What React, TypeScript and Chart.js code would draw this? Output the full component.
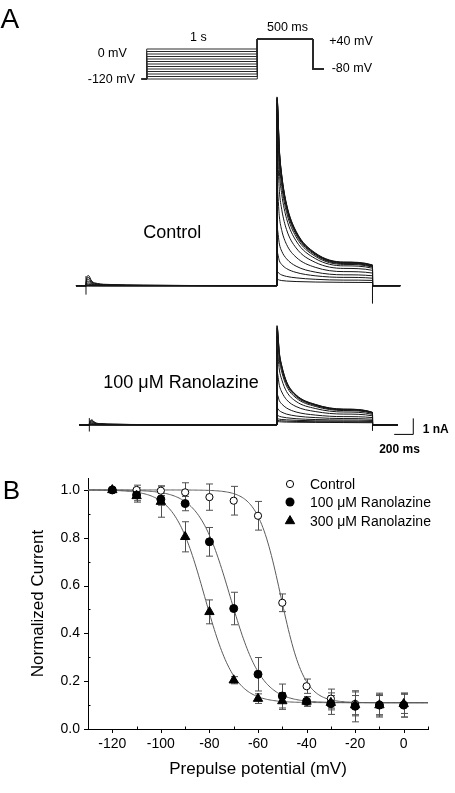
import React, { useEffect, useRef } from "react";
import { Chart, registerables } from "chart.js";

Chart.register(...registerables);

const FONT = "'Liberation Sans', Arial, Helvetica, sans-serif";

// ---------------- Panel A : voltage protocol ----------------
const protocolPrepulseMv = [-120, -110, -100, -90, -80, -70, -60, -50, -40, -30, -20, -10, 0];
const protocolTimesMs = [-45, 0, 0, 1000, 1000, 1500, 1500, 1603];
const protocolHoldingMv = -120;
const protocolTestMv = 40;
const protocolTailMv = -80;

// ---------------- Panel A : current traces (nA vs ms) ----------------
const controlPreT = [-105, -1, 0, 1, 25, 60, 120, 250, 600, 1999];
const ranoPreT = [-70, 34, 35, 36, 60, 95, 155, 285, 635, 1999];
const testT = [2000, 2025, 2050, 2100, 2200, 2400, 2700, 3000];
const controlTailT = [3001, 3290];
const ranoTailT = [3001, 3267];

// one row per prepulse (-120 ... 0 mV)
const controlPre = [
  [0, 0, 0, 0, 0, 0, 0, 0, 0, 0],
  [0, 0, 0, 0, 0, 0, 0, 0, 0, 0],
  [0, 0, 0, 0, 0, 0, 0, 0, 0, 0],
  [0, 0, 0, 0, 0, 0, 0, 0, 0, 0],
  [0, 0, 0, 0, 0, 0, 0, 0, 0, 0],
  [0, 0, 0, 0.006, 0.02, 0.009, 0.004, 0.002, 0.001, 0],
  [0, 0, 0, 0.015, 0.05, 0.022, 0.011, 0.006, 0.003, 0],
  [0, 0, 0, 0.03, 0.1, 0.045, 0.022, 0.012, 0.005, 0],
  [0, 0, 0, 0.054, 0.18, 0.08, 0.04, 0.022, 0.009, 0],
  [0, 0, 0, 0.084, 0.28, 0.126, 0.062, 0.034, 0.014, 0],
  [0, 0, 0, 0.12, 0.4, 0.18, 0.088, 0.048, 0.02, 0],
  [0, 0, 0, 0.156, 0.52, 0.234, 0.114, 0.062, 0.026, 0],
  [0, 0, 0, 0.192, 0.64, 0.288, 0.14, 0.077, 0.032, 0],
];
const controlTest = [
  [11.8, 8.5, 6.9, 5.1, 3.4, 2.05, 1.48, 1.3],
  [11.75, 8.45, 6.85, 5.05, 3.37, 2.03, 1.46, 1.28],
  [11.7, 8.4, 6.8, 5.0, 3.33, 2.0, 1.44, 1.26],
  [11.6, 8.3, 6.7, 4.93, 3.28, 1.97, 1.41, 1.23],
  [11.4, 8.1, 6.55, 4.82, 3.2, 1.92, 1.38, 1.2],
  [11.0, 7.7, 6.2, 4.58, 3.05, 1.84, 1.33, 1.16],
  [10.3, 7.1, 5.7, 4.2, 2.8, 1.7, 1.24, 1.09],
  [8.6, 5.9, 4.75, 3.5, 2.36, 1.46, 1.08, 0.96],
  [6.2, 4.3, 3.45, 2.58, 1.78, 1.15, 0.88, 0.79],
  [3.6, 2.6, 2.15, 1.68, 1.22, 0.85, 0.68, 0.62],
  [2.1, 1.55, 1.32, 1.07, 0.83, 0.62, 0.52, 0.47],
  [0.9, 0.75, 0.67, 0.58, 0.49, 0.4, 0.35, 0.33],
  [0.4, 0.35, 0.32, 0.29, 0.26, 0.23, 0.21, 0.2],
];
const ranoPre = [
  [0, 0, 0, 0, 0, 0, 0, 0, 0, 0],
  [0, 0, 0, 0, 0, 0, 0, 0, 0, 0],
  [0, 0, 0, 0, 0, 0, 0, 0, 0, 0],
  [0, 0, 0, 0, 0, 0, 0, 0, 0, 0],
  [0, 0, 0, 0, 0, 0, 0, 0, 0, 0],
  [0, 0, 0, 0.006, 0.02, 0.009, 0.004, 0.002, 0.001, 0],
  [0, 0, 0, 0.012, 0.04, 0.018, 0.009, 0.005, 0.002, 0],
  [0, 0, 0, 0.024, 0.08, 0.036, 0.018, 0.01, 0.004, 0],
  [0, 0, 0, 0.039, 0.13, 0.058, 0.029, 0.016, 0.006, 0],
  [0, 0, 0, 0.054, 0.18, 0.08, 0.04, 0.022, 0.009, 0],
  [0, 0, 0, 0.069, 0.23, 0.1, 0.05, 0.028, 0.011, 0],
  [0, 0, 0, 0.081, 0.27, 0.12, 0.06, 0.033, 0.013, 0],
  [0, 0, 0, 0.093, 0.31, 0.14, 0.068, 0.037, 0.015, 0],
];
const ranoTest = [
  [6.2, 4.5, 3.7, 2.7, 1.87, 1.28, 0.98, 0.78],
  [6.15, 4.45, 3.66, 2.67, 1.85, 1.26, 0.97, 0.77],
  [6.05, 4.38, 3.6, 2.63, 1.82, 1.24, 0.95, 0.76],
  [5.9, 4.27, 3.5, 2.56, 1.77, 1.21, 0.93, 0.74],
  [5.55, 4.0, 3.3, 2.42, 1.68, 1.15, 0.89, 0.71],
  [4.7, 3.42, 2.82, 2.08, 1.46, 1.02, 0.8, 0.65],
  [3.3, 2.45, 2.05, 1.57, 1.14, 0.83, 0.67, 0.56],
  [1.9, 1.5, 1.3, 1.05, 0.8, 0.61, 0.51, 0.45],
  [1.05, 0.88, 0.79, 0.67, 0.55, 0.45, 0.39, 0.35],
  [0.6, 0.53, 0.49, 0.44, 0.38, 0.33, 0.3, 0.27],
  [0.38, 0.35, 0.33, 0.31, 0.28, 0.25, 0.23, 0.21],
  [0.27, 0.26, 0.25, 0.23, 0.21, 0.19, 0.18, 0.17],
  [0.2, 0.19, 0.18, 0.17, 0.16, 0.15, 0.14, 0.13],
];
// capacitive ticks (ms, nA)
const controlStartTickT = [0, 0];
const controlStartTickI = [-0.56, 0.6];
const controlEndTickT = [3000, 3000];
const controlEndTickI = [0, -1.1];
const ranoStartTickT = [35, 35];
const ranoStartTickI = [-0.42, 0.42];
const ranoEndTickT = [3000, 3000];
const ranoEndTickI = [0, -0.36];
// scale bar: 200 ms x 1 nA
const scaleBarT = [3227, 3427, 3427];
const scaleBarI = [-0.6, -0.6, 0.4];

// ---------------- Panel B : steady-state inactivation ----------------
const prepulseMv = [-120, -110, -100, -90, -80, -70, -60, -50, -40, -30, -20, -10, 0];
const controlNorm = [1.0, 1.0, 0.997, 0.99, 0.97, 0.955, 0.892, 0.528, 0.179, 0.127, 0.105, 0.1, 0.1];
const controlErr = [0.0, 0.02, 0.02, 0.04, 0.055, 0.06, 0.06, 0.037, 0.03, 0.04, 0.05, 0.045, 0.05];
const rano100Norm = [1.0, 0.979, 0.961, 0.943, 0.783, 0.504, 0.229, 0.138, 0.116, 0.106, 0.095, 0.1, 0.1];
const rano100Err = [0.01, 0.03, 0.025, 0.03, 0.06, 0.068, 0.07, 0.05, 0.02, 0.045, 0.065, 0.05, 0.05];
const rano300Norm = [1.0, 0.975, 0.951, 0.804, 0.49, 0.204, 0.127, 0.117, 0.115, 0.11, 0.1, 0.1, 0.105];
const rano300Err = [0.01, 0.02, 0.065, 0.063, 0.05, 0.015, 0.02, 0.035, 0.02, 0.03, 0.04, 0.04, 0.04];
// Boltzmann fits (control, 100 uM, 300 uM)
const fitVHalf = [-50.6, -71.5, -82.0];
const fitSlope = [4.8, 6.5, 6.2];
const fitTop = 1.0;
const fitBottom = 0.11;
const xTickLabels = [-120, -100, -80, -60, -40, -20, 0];
const xTickMarks = [-130, -120, -110, -100, -90, -80, -70, -60, -50, -40, -30, -20, -10, 0, 10];
const yTickLabels = [0, 0.2, 0.4, 0.6, 0.8, 1.0];
const yTickMarks = [0, 0.1, 0.2, 0.3, 0.4, 0.5, 0.6, 0.7, 0.8, 0.9, 1.0];

const seriesB = [
  { values: controlNorm, err: controlErr },
  { values: rano100Norm, err: rano100Err },
  { values: rano300Norm, err: rano300Err },
];

const pts = (xs: number[], ys: number[]) => xs.map((x, i) => ({ x, y: ys[i] }));

const lineDs = (data: any[], xAxisID: string, yAxisID: string, smooth: boolean, color = "#151515") => ({
  data,
  xAxisID,
  yAxisID,
  showLine: true,
  pointRadius: 0,
  pointHoverRadius: 0,
  borderColor: color,
  borderWidth: 1,
  fill: false,
  tension: 0,
  cubicInterpolationMode: smooth ? "monotone" : "default",
});

const errorBarPlugin = {
  id: "errorBars",
  beforeDatasetsDraw(chart: any) {
    const { ctx, scales } = chart;
    const x = scales.x;
    const y = scales.y;
    ctx.save();
    ctx.strokeStyle = "#505050";
    ctx.lineWidth = 1;
    ctx.beginPath();
    seriesB.forEach((s) => {
      s.values.forEach((v, i) => {
        if (!s.err[i]) return;
        const px = Math.round(x.getPixelForValue(prepulseMv[i])) + 0.5;
        const t = y.getPixelForValue(v + s.err[i]);
        const b = y.getPixelForValue(v - s.err[i]);
        ctx.moveTo(px, t);
        ctx.lineTo(px, b);
        ctx.moveTo(px - 3.5, t);
        ctx.lineTo(px + 3.5, t);
        ctx.moveTo(px - 3.5, b);
        ctx.lineTo(px + 3.5, b);
      });
    });
    ctx.stroke();
    ctx.restore();
  },
};

const axisTickPlugin = {
  id: "axisTicks",
  afterDraw(chart: any) {
    const { ctx, chartArea, scales } = chart;
    ctx.save();
    ctx.strokeStyle = "#000";
    ctx.lineWidth = 1;
    ctx.beginPath();
    xTickMarks.forEach((v) => {
      const px = Math.round(scales.x.getPixelForValue(v)) + 0.5;
      const major = xTickLabels.includes(v);
      ctx.moveTo(px, chartArea.bottom + (major ? 4 : 0));
      ctx.lineTo(px, chartArea.bottom - (major ? 0 : 2.5));
    });
    yTickMarks.forEach((v) => {
      const py = Math.round(scales.y.getPixelForValue(v)) + 0.5;
      const major = yTickLabels.some((t) => Math.abs(t - v) < 1e-9);
      ctx.moveTo(chartArea.left - (major ? 4 : 0), py);
      ctx.lineTo(chartArea.left + (major ? 0 : 2.5), py);
    });
    ctx.stroke();
    ctx.restore();
  },
};

type LabelProps = {
  x: number;
  y: number;
  size: number;
  text: string;
  align?: "left" | "center" | "right";
  bold?: boolean;
};

function Label({ x, y, size, text, align = "left", bold = false }: LabelProps) {
  const shift = align === "center" ? "translateX(-50%)" : align === "right" ? "translateX(-100%)" : "none";
  return (
    <div
      style={{
        position: "absolute",
        left: x,
        top: y - 0.4885 * size,
        fontSize: size,
        lineHeight: `${size}px`,
        fontWeight: bold ? "bold" : "normal",
        whiteSpace: "nowrap",
        transform: shift,
        color: "#000",
      }}
    >
      {text}
    </div>
  );
}

export default function App() {
  const aRef = useRef<HTMLCanvasElement>(null);
  const bRef = useRef<HTMLCanvasElement>(null);

  useEffect(() => {
    Chart.defaults.font.family = FONT;
    Chart.defaults.color = "#000";

    // ---- Panel A ----
    const dsA: any[] = [];
    protocolPrepulseMv.forEach((v) => {
      const levels = [protocolHoldingMv, protocolHoldingMv, v, v, protocolTestMv, protocolTestMv, protocolTailMv, protocolTailMv];
      dsA.push(lineDs(pts(protocolTimesMs, levels), "xp", "yp", false, "#2a2a2a"));
    });
    controlTest.forEach((row, k) => {
      const data = [
        ...pts(controlPreT, controlPre[k]),
        ...pts(testT, row),
        ...pts(controlTailT, controlTailT.map(() => 0)),
      ];
      dsA.push(lineDs(data, "x", "yc", true));
    });
    ranoTest.forEach((row, k) => {
      const data = [
        ...pts(ranoPreT, ranoPre[k]),
        ...pts(testT, row),
        ...pts(ranoTailT, ranoTailT.map(() => 0)),
      ];
      dsA.push(lineDs(data, "x", "yr", true));
    });
    dsA.push(lineDs(pts(controlStartTickT, controlStartTickI), "x", "yc", false));
    dsA.push(lineDs(pts(controlEndTickT, controlEndTickI), "x", "yc", false));
    dsA.push(lineDs(pts(ranoStartTickT, ranoStartTickI), "x", "yr", false));
    dsA.push(lineDs(pts(ranoEndTickT, ranoEndTickI), "x", "yr", false));
    dsA.push(lineDs(pts(scaleBarT, scaleBarI), "x", "yr", false, "#000"));

    const chartA = new Chart(aRef.current as HTMLCanvasElement, {
      type: "scatter",
      data: { datasets: dsA },
      options: {
        responsive: false,
        maintainAspectRatio: false,
        animation: false,
        events: [],
        layout: { padding: 0 },
        plugins: { legend: { display: false }, tooltip: { enabled: false } },
        scales: {
          x: { type: "linear", display: false, min: -900.5, max: 3863.9 },
          xp: { type: "linear", display: false, min: -1326.4, max: 2787.5 },
          y: { type: "linear", display: false },
          yc: { type: "linear", display: false, min: -11.519, max: 17.856 },
          yr: { type: "linear", display: false, min: -2.825, max: 26.55 },
          yp: { type: "linear", display: false, min: -1684, max: 196 },
        },
      } as any,
    });

    // ---- Panel B ----
    const fitDs = fitVHalf.map((vh, k) => {
      const data: { x: number; y: number }[] = [];
      for (let v = -130; v <= 10.001; v += 0.5) {
        data.push({ x: v, y: fitBottom + (fitTop - fitBottom) / (1 + Math.exp((v - vh) / fitSlope[k])) });
      }
      return { ...lineDs(data, "x", "y", false, "#5a5a5a"), order: 10 };
    });

    const chartB = new Chart(bRef.current as HTMLCanvasElement, {
      type: "scatter",
      data: {
        datasets: [
          ...fitDs,
          {
            data: pts(prepulseMv, controlNorm),
            pointStyle: "circle",
            pointRadius: 3.6,
            pointBackgroundColor: "#fff",
            pointBorderColor: "#000",
            pointBorderWidth: 1,
            order: 3,
          },
          {
            data: pts(prepulseMv, rano100Norm),
            pointStyle: "circle",
            pointRadius: 4,
            pointBackgroundColor: "#000",
            pointBorderColor: "#000",
            pointBorderWidth: 1,
            order: 2,
          },
          {
            data: pts(prepulseMv, rano300Norm),
            pointStyle: "triangle",
            pointRadius: 5.4,
            pointBackgroundColor: "#000",
            pointBorderColor: "#000",
            pointBorderWidth: 1,
            order: 1,
          },
        ] as any,
      },
      options: {
        responsive: false,
        maintainAspectRatio: false,
        animation: false,
        events: [],
        layout: { padding: { top: 38, right: 27, left: 0, bottom: 0 } },
        plugins: { legend: { display: false }, tooltip: { enabled: false } },
        scales: {
          x: {
            type: "linear",
            min: -130,
            max: 10,
            afterFit: (s: any) => {
              s.height = 64;
            },
            afterBuildTicks: (s: any) => {
              s.ticks = xTickLabels.map((v) => ({ value: v }));
            },
            grid: { display: false, drawTicks: false },
            border: { display: true, color: "#000", width: 1 },
            ticks: { padding: 7, font: { size: 14 }, color: "#000", maxRotation: 0, autoSkip: false },
            title: {
              display: true,
              text: "Prepulse potential (mV)",
              font: { size: 17 },
              color: "#000",
              padding: { top: 0, bottom: 13 },
            },
          },
          y: {
            type: "linear",
            min: 0,
            max: 1.05,
            afterFit: (s: any) => {
              s.width = 88;
            },
            afterBuildTicks: (s: any) => {
              s.ticks = yTickLabels.map((v) => ({ value: v }));
            },
            grid: { display: false, drawTicks: false },
            border: { display: true, color: "#000", width: 1 },
            ticks: {
              padding: 8,
              font: { size: 14 },
              color: "#000",
              autoSkip: false,
              callback: (v: any) => Number(v).toFixed(1),
            },
            title: {
              display: true,
              text: "Normalized Current",
              font: { size: 17 },
              color: "#000",
              padding: { top: 27.7, bottom: 0 },
            },
          },
        },
      } as any,
      plugins: [errorBarPlugin, axisTickPlugin],
    });

    return () => {
      chartA.destroy();
      chartB.destroy();
    };
  }, []);

  const legendRows = [
    { y: 484, label: "Control", kind: "open" },
    { y: 502.3, label: "100 μM Ranolazine", kind: "filled" },
    { y: 520.7, label: "300 μM Ranolazine", kind: "tri" },
  ];

  return (
    <div
      style={{
        position: "absolute",
        left: 0,
        top: 0,
        width: 455,
        height: 793,
        background: "#fff",
        fontFamily: FONT,
        overflow: "hidden",
      }}
    >
      <canvas
        ref={aRef}
        width={455}
        height={470}
        style={{ position: "absolute", left: 0, top: 0, width: 455, height: 470 }}
      />
      <canvas
        ref={bRef}
        width={455}
        height={353}
        style={{ position: "absolute", left: 0, top: 440, width: 455, height: 353 }}
      />

      <Label x={0.5} y={18.3} size={28} text="A" />
      <Label x={97.7} y={53.3} size={12.5} text="0 mV" />
      <Label x={135} y={79} size={12.5} text="-120 mV" align="right" />
      <Label x={198.3} y={37.5} size={12.5} text="1 s" align="center" />
      <Label x={287.5} y={26.7} size={12.5} text="500 ms" align="center" />
      <Label x={329.3} y={41} size={12.5} text="+40 mV" />
      <Label x={331.7} y={68.3} size={12.5} text="-80 mV" />
      <Label x={143.3} y={231.7} size={18} text="Control" />
      <Label x={103.3} y={381.7} size={18} text="100 μM Ranolazine" />
      <Label x={422.7} y={429} size={12} text="1 nA" bold />
      <Label x={399.5} y={448.8} size={12} text="200 ms" align="center" bold />

      <Label x={2.7} y={490} size={26} text="B" />
      {legendRows.map((r) => (
        <React.Fragment key={r.label}>
          <svg
            width={14}
            height={14}
            style={{ position: "absolute", left: 283, top: r.y - 7 }}
          >
            {r.kind === "open" && <circle cx={7} cy={7} r={3.6} fill="#fff" stroke="#000" strokeWidth={1} />}
            {r.kind === "filled" && <circle cx={7} cy={7} r={4.5} fill="#000" />}
            {r.kind === "tri" && <polygon points="7,1.6 11.7,9.7 2.3,9.7" fill="#000" stroke="#000" strokeWidth={1} />}
          </svg>
          <Label x={310} y={r.y} size={14} text={r.label} />
        </React.Fragment>
      ))}
    </div>
  );
}
